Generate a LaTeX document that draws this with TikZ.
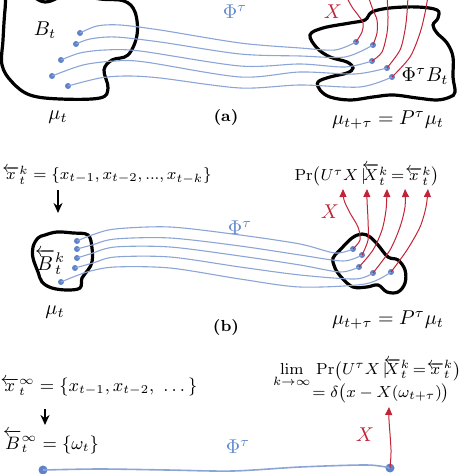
\documentclass[tikz,border=0pt]{standalone}
\usepackage{amsmath}
\usetikzlibrary{arrows.meta}
\definecolor{flowblue}{RGB}{140,165,215}
\definecolor{dotblue}{RGB}{95,130,200}
\definecolor{labblue}{RGB}{100,140,205}
\definecolor{xred}{RGB}{195,35,55}
\newcommand{\pastof}[1]{\mkern-4mu\overleftarrow{#1}}
\begin{document}
\begin{tikzpicture}[x=0.5pt,y=-0.5pt,
  blob/.style={draw=black, line width=1.6pt},
  flow/.style={draw=flowblue, line width=0.55pt},
  obs/.style={draw=xred, line width=0.5pt},
  obsarrow/.style={obs, -{Triangle[length=4pt,width=3.5pt]}},
  dotnode/.style={circle, fill=dotblue, inner sep=0pt, minimum size=3pt},
  bigdot/.style={circle, fill=dotblue, inner sep=0pt, minimum size=4.5pt},
  lab/.style={inner sep=0pt},
  midlab/.style={inner sep=0pt, font=\small},
  seqlab/.style={inner sep=0pt, font=\fontsize{8.5}{10}\selectfont},
  smalllab/.style={inner sep=0pt, font=\footnotesize},
  bluelab/.style={inner sep=0pt, text=labblue},
  redlab/.style={inner sep=0pt, text=xred},
  downarrow/.style={draw=black, line width=1pt, -{Stealth[length=5pt,width=4.5pt]}}
]
\useasboundingbox (0,0) rectangle (474,474);
\clip (0,0) rectangle (474,474);

% ---------------- panel (a) ----------------
\draw[blob] plot[smooth cycle, tension=0.6] coordinates {(8,-6) (5,10) (3,40) (2,65) (12,82) (30,95) (60,99) (100,98) (108,88) (104,70) (112,60) (128,55) (137,35) (135,12) (124,1) (100,-1) (70,-6) (45,2) (25,-8)};
\draw[blob] plot[smooth cycle, tension=0.6] coordinates {(310,35) (323,28) (350,23) (365,20) (372,12) (390,8) (417,7) (437,10) (438,18) (433,25) (437,33) (447,43) (453,57) (453,77) (455,92) (450,97) (437,100) (417,98) (393,95) (373,97) (350,100) (330,97) (320,90) (318,82) (330,77) (347,73) (353,68) (347,62) (330,57) (317,48)};

\node[dotnode] (la1) at (80,33) {};
\node[dotnode] (la2) at (76,44) {};
\node[dotnode] (la3) at (61,60) {};
\node[dotnode] (la4) at (52,76) {};
\node[dotnode] (la5) at (68,86) {};
\node[dotnode] (ra1) at (356,42) {};
\node[dotnode] (ra2) at (373,45) {};
\node[dotnode] (ra3) at (372,61) {};
\node[dotnode] (ra4) at (387,68) {};
\node[dotnode] (ra5) at (392,77) {};

\draw[flow] plot[smooth] coordinates {(la1.center) (97,26) (120,25) (160,30) (240,43) (300,48) (335,50) (ra1.center)};
\draw[flow] plot[smooth] coordinates {(la2.center) (90,39) (115,37) (160,42) (240,54) (300,56) (345,57) (ra2.center)};
\draw[flow] plot[smooth] coordinates {(la3.center) (80,53) (105,50) (140,51) (240,66) (300,64) (345,67) (ra3.center)};
\draw[flow] plot[smooth] coordinates {(la4.center) (83,65) (115,61) (145,62) (240,77) (300,72) (355,74) (ra4.center)};
\draw[flow] plot[smooth] coordinates {(la5.center) (100,78) (127,76) (160,78) (240,88) (300,85) (360,87) (ra5.center)};

\coordinate (ta1) at (346,-4);
\coordinate (ta2) at (368,-4);
\coordinate (ta3) at (387,-4);
\coordinate (ta4) at (408,-4);
\coordinate (ta5) at (428,-4);
\draw[obs] plot[smooth] coordinates {(ra1.center) (362,32) (363,23) (358,15) (352,7) (ta1)};
\draw[obs] plot[smooth] coordinates {(ra2.center) (377,33) (377,20) (373,10) (ta2)};
\draw[obs] plot[smooth] coordinates {(ra3.center) (382,52) (387,33) (388,17) (ta3)};
\draw[obs] plot[smooth] coordinates {(ra4.center) (400,50) (405,30) (407,13) (ta4)};
\draw[obs] plot[smooth] coordinates {(ra5.center) (410,57) (420,33) (425,13) (ta5)};

\node[lab] (Bt) at (45,30) {$B_t$};
\node[lab] (mua) at (58,117) {$\mu_t$};
\node[lab] (capa) at (226,118) {\footnotesize\textbf{(a)}};
\node[bluelab] (phia) at (235,12) {$\Phi^\tau$};
\node[redlab] (Xa) at (333,12) {$X$};
\node[lab] (PhiB) at (425,76) {$\Phi^\tau B_t$};
\node[lab] (mura) at (388,120) {$\mu_{t+\tau} = P^\tau \mu_t$};

% ---------------- panel (b) ----------------
\node[seqlab] (xk) at (107,175) {$\overleftarrow{x}_t^k = \{x_{t-1}, x_{t-2},..., x_{t-k}\}$};
\coordinate (dka) at (58,190);
\coordinate (dkb) at (58,213);
\draw[downarrow] (dka) -- (dkb);

\draw[blob] plot[smooth cycle, tension=0.6] coordinates {(45,235) (57,232) (73,233) (88,235) (92,248) (92,262) (88,270) (82,278) (80,288) (67,290) (52,288) (42,282) (38,272) (33,258) (33,247) (38,238)};
\draw[blob] plot[smooth cycle, tension=0.6] coordinates {(333,258) (340,250) (352,238) (362,234) (370,237) (378,245) (388,257) (398,260) (405,270) (405,283) (398,292) (387,292) (378,285) (367,287) (353,287) (342,278) (335,268)};

\node[dotnode] (lb1) at (77,241) {};
\node[dotnode] (lb2) at (77,249) {};
\node[dotnode] (lb3) at (77,258) {};
\node[dotnode] (lb4) at (75,268) {};
\node[dotnode] (lb5) at (61,282) {};
\node[dotnode] (rb1) at (353,249) {};
\node[dotnode] (rb2) at (362,255) {};
\node[dotnode] (rb3) at (359,267) {};
\node[dotnode] (rb4) at (373,273) {};
\node[dotnode] (rb5) at (391,272) {};

\draw[flow] plot[smooth] coordinates {(lb1.center) (92,235) (115,229) (170,227) (240,235) (300,244) (335,253) (rb1.center)};
\draw[flow] plot[smooth] coordinates {(lb2.center) (92,245) (115,239) (170,238) (240,246) (300,255) (343,261) (rb2.center)};
\draw[flow] plot[smooth] coordinates {(lb3.center) (90,254) (115,247) (170,247) (240,256) (300,265) (340,272) (rb3.center)};
\draw[flow] plot[smooth] coordinates {(lb4.center) (93,263) (115,257) (170,257) (240,267) (300,275) (355,279) (rb4.center)};
\draw[flow] plot[smooth] coordinates {(lb5.center) (87,272) (115,267) (170,268) (240,279) (300,287) (365,284) (rb5.center)};

\coordinate (tb1) at (343,189);
\coordinate (tb2) at (367,189);
\coordinate (tb3) at (387,189);
\coordinate (tb4) at (405,189);
\coordinate (tb5) at (428,189);
\draw[obsarrow] plot[smooth] coordinates {(rb1.center) (360,240) (358,227) (350,213) (344,200) (tb1)};
\draw[obsarrow] plot[smooth] coordinates {(rb2.center) (368,240) (368,220) (367,200) (tb2)};
\draw[obsarrow] plot[smooth] coordinates {(rb3.center) (373,250) (382,230) (386,210) (tb3)};
\draw[obsarrow] plot[smooth] coordinates {(rb4.center) (390,250) (400,227) (405,207) (tb4)};
\draw[obsarrow] plot[smooth] coordinates {(rb5.center) (407,250) (420,227) (426,207) (tb5)};

\node[lab] (Bk) at (50,262) {$\overleftarrow{B}_t^k$};
\node[lab] (mub) at (55,312) {$\mu_t$};
\node[lab] (capb) at (226,327) {\footnotesize\textbf{(b)}};
\node[bluelab] (phib) at (240,228) {$\Phi^\tau$};
\node[redlab] (Xb) at (330,212) {$X$};
\node[smalllab] (Prb) at (367,175) {$\mathrm{Pr}\bigl(U^\tau X\,|\pastof{X}_t^k\mkern-2mu=\pastof{x}_t^k\bigr)$};
\node[lab] (murb) at (388,320) {$\mu_{t+\tau} = P^\tau \mu_t$};

% ---------------- panel (c) ----------------
\node[midlab] (xinf) at (99,387) {$\overleftarrow{x}_t^\infty = \{x_{t-1}, x_{t-2},\ \dots\}$};
\coordinate (dia) at (45,409);
\coordinate (dib) at (45,425);
\draw[downarrow] (dia) -- (dib);
\node[midlab] (Binf) at (51,442) {$\overleftarrow{B}_t^\infty = \{\omega_t\}$};
\node[bluelab] (phic) at (238,447) {$\Phi^\tau$};

\node[bigdot] (c1) at (43,470) {};
\node[bigdot] (c2) at (390,468) {};
\draw[flow, line width=0.8pt] plot[smooth] coordinates {(c1.center) (100,469) (167,470) (233,471) (300,467) (367,465) (c2.center)};
\coordinate (tc) at (389,407);
\draw[obsarrow] plot[smooth] coordinates {(c2.center) (391,450) (389,420) (tc)};
\node[redlab] (Xc) at (365,435) {$X$};

\node[smalllab] (limc) at (367,373) {$\displaystyle\lim_{k\to\infty}\,\mathrm{Pr}\bigl(U^\tau X\,|\pastof{X}_t^k\mkern-2mu=\pastof{x}_t^k\bigr)$};
\node[smalllab, anchor=west] (deltac) at (312,393) {$= \delta\bigl(x - X(\omega_{t+\tau})\bigr)$};
\end{tikzpicture}
\end{document}
